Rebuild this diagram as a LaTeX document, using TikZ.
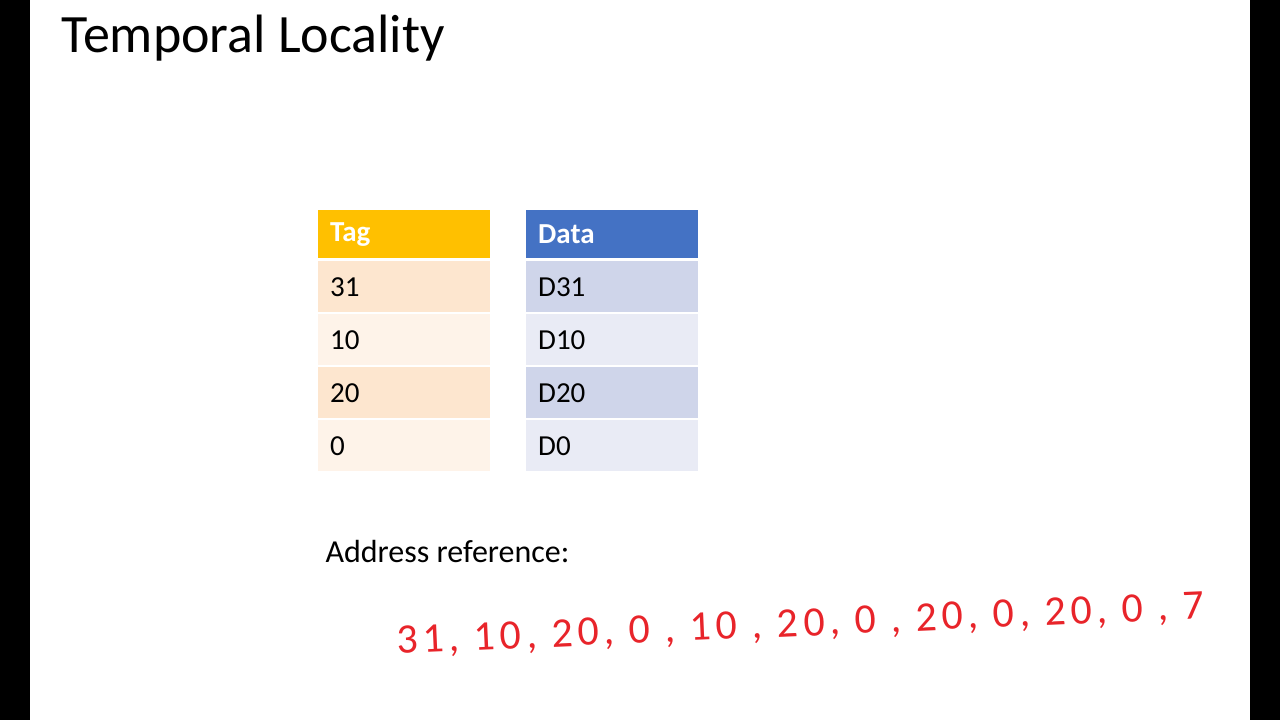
\documentclass[tikz,border=0pt]{standalone}
\usepackage{fontspec}
\setmainfont{Carlito}
\definecolor{taghead}{HTML}{FFC000}
\definecolor{tagA}{HTML}{FDE6CF}
\definecolor{tagB}{HTML}{FEF3E9}
\definecolor{datahead}{HTML}{4472C4}
\definecolor{dataA}{HTML}{CFD5EA}
\definecolor{dataB}{HTML}{E9EBF5}
\definecolor{pen}{HTML}{E8242A}
\begin{document}
\begin{tikzpicture}[x=1pt,y=-1pt,
  cell/.style={anchor=north west,minimum width=172pt,minimum height=#1,inner sep=0pt,text width=148pt,align=left,font=\fontsize{29}{32}\selectfont},
  cell/.default=51pt]
\useasboundingbox (0,0) rectangle (1280,720);
\fill[black] (0,0) rectangle (30,720);
\fill[black] (1250,0) rectangle (1280,720);
\node[anchor=west,font=\fontsize{54}{60}\selectfont] (title) at (58,38) {Temporal Locality};
% Tag table
\node[cell=48pt,fill=taghead,text=white,font=\bfseries\fontsize{29}{32}\selectfont] (th) at (318,210) {Tag};
\node[cell,fill=tagA] (t1) at (318,261) {31};
\node[cell,fill=tagB] (t2) at (318,314) {10};
\node[cell,fill=tagA] (t3) at (318,367) {20};
\node[cell,fill=tagB] (t4) at (318,420) {0};
% Data table
\node[cell=48pt,fill=datahead,text=white,font=\bfseries\fontsize{29}{32}\selectfont] (dh) at (526,210) {Data};
\node[cell,fill=dataA] (d1) at (526,261) {D31};
\node[cell,fill=dataB] (d2) at (526,314) {D10};
\node[cell,fill=dataA] (d3) at (526,367) {D20};
\node[cell,fill=dataB] (d4) at (526,420) {D0};
\node[anchor=west,font=\fontsize{32}{36}\selectfont] (addr) at (322,552) {Address reference:};
\node[anchor=west,text=pen,font=\fontsize{42}{44}\addfontfeatures{LetterSpace=12}\selectfont,rotate=2.5] (seq) at (393,643) {31, 10, 20, 0 , 10 , 20, 0 , 20, 0, 20, 0 , 7};
\end{tikzpicture}
\end{document}
